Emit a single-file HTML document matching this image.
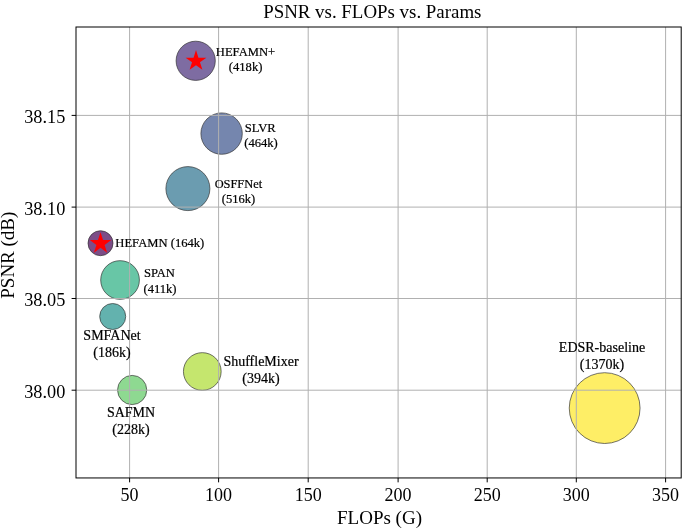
<!DOCTYPE html>
<html lang="en"><head><meta charset="utf-8"><title>PSNR vs. FLOPs vs. Params</title>
<style>html,body{margin:0;padding:0;background:#fff}svg{display:block}text{font-family:"Liberation Serif","Times New Roman",Times,serif;fill:#000}</style></head><body>
<svg width="685" height="531" viewBox="0 0 685 531">
<rect width="685" height="531" fill="#fff"/>
<g stroke="#303030" stroke-width="0.9" stroke-opacity="0.75" fill-opacity="0.7">
<circle cx="100.5" cy="243.2" r="12.50" fill="#440154"/>
<circle cx="195.7" cy="60.8" r="19.60" fill="#472d7b"/>
<circle cx="221.6" cy="133.6" r="20.70" fill="#3b528b"/>
<circle cx="187.9" cy="188.6" r="22.00" fill="#2c728e"/>
<circle cx="112.7" cy="316.5" r="13.00" fill="#21918c"/>
<circle cx="120.05" cy="280.0" r="19.35" fill="#28ae80"/>
<circle cx="132.15" cy="390.0" r="14.60" fill="#5ec962"/>
<circle cx="202.3" cy="371.5" r="18.85" fill="#addc30"/>
<circle cx="604.65" cy="408.1" r="35.40" fill="#fde725"/>
</g>
<g stroke="#b0b0b0" stroke-width="1" fill="none">
<line x1="129.60" y1="27.0" x2="129.60" y2="477.95"/>
<line x1="218.60" y1="27.0" x2="218.60" y2="477.95"/>
<line x1="308.20" y1="27.0" x2="308.20" y2="477.95"/>
<line x1="398.10" y1="27.0" x2="398.10" y2="477.95"/>
<line x1="487.20" y1="27.0" x2="487.20" y2="477.95"/>
<line x1="576.30" y1="27.0" x2="576.30" y2="477.95"/>
<line x1="665.60" y1="27.0" x2="665.60" y2="477.95"/>
<line x1="76.0" y1="115.4" x2="681.2" y2="115.4"/>
<line x1="76.0" y1="207.1" x2="681.2" y2="207.1"/>
<line x1="76.0" y1="298.5" x2="681.2" y2="298.5"/>
<line x1="76.0" y1="390.2" x2="681.2" y2="390.2"/>
</g>
<polygon points="100.50,232.30 103.03,240.07 111.20,240.07 104.59,244.88 107.11,252.65 100.50,247.85 93.89,252.65 96.41,244.88 89.80,240.07 97.97,240.07" fill="#ff0000"/>
<polygon points="196.00,50.10 198.45,57.63 206.37,57.63 199.96,62.29 202.41,69.82 196.00,65.16 189.59,69.82 192.04,62.29 185.63,57.63 193.55,57.63" fill="#ff0000"/>
<g stroke="#000" stroke-width="1" fill="none">
<line x1="129.60" y1="477.95" x2="129.60" y2="482.35"/>
<line x1="218.60" y1="477.95" x2="218.60" y2="482.35"/>
<line x1="308.20" y1="477.95" x2="308.20" y2="482.35"/>
<line x1="398.10" y1="477.95" x2="398.10" y2="482.35"/>
<line x1="487.20" y1="477.95" x2="487.20" y2="482.35"/>
<line x1="576.30" y1="477.95" x2="576.30" y2="482.35"/>
<line x1="665.60" y1="477.95" x2="665.60" y2="482.35"/>
<line x1="71.6" y1="115.4" x2="76.0" y2="115.4"/>
<line x1="71.6" y1="207.1" x2="76.0" y2="207.1"/>
<line x1="71.6" y1="298.5" x2="76.0" y2="298.5"/>
<line x1="71.6" y1="390.2" x2="76.0" y2="390.2"/>
<rect x="76.0" y="27.0" width="605.20" height="450.95"/>
</g>
<g font-size="18.3">
<text x="129.60" y="501" font-size="18" text-anchor="middle">50</text>
<text x="218.60" y="501" font-size="18" text-anchor="middle">100</text>
<text x="308.20" y="501" font-size="18" text-anchor="middle">150</text>
<text x="398.10" y="501" font-size="18" text-anchor="middle">200</text>
<text x="487.20" y="501" font-size="18" text-anchor="middle">250</text>
<text x="576.30" y="501" font-size="18" text-anchor="middle">300</text>
<text x="665.60" y="501" font-size="18" text-anchor="middle">350</text>
<text x="65.3" y="122.8" text-anchor="end">38.15</text>
<text x="65.3" y="214.5" text-anchor="end">38.10</text>
<text x="65.3" y="305.9" text-anchor="end">38.05</text>
<text x="65.3" y="397.6" text-anchor="end">38.00</text>
</g>
<text x="245.5" y="56.2" font-size="12.6" text-anchor="middle" stroke="#000" stroke-width="0.2">HEFAMN+</text>
<text x="245.6" y="71.0" font-size="12.6" text-anchor="middle" stroke="#000" stroke-width="0.2">(418k)</text>
<text x="260.2" y="131.6" font-size="12.6" text-anchor="middle" stroke="#000" stroke-width="0.2">SLVR</text>
<text x="261.0" y="146.6" font-size="12.6" text-anchor="middle" stroke="#000" stroke-width="0.2">(464k)</text>
<text x="238.4" y="187.7" font-size="12.4" text-anchor="middle" stroke="#000" stroke-width="0.2">OSFFNet</text>
<text x="238.5" y="202.9" font-size="12.5" text-anchor="middle" stroke="#000" stroke-width="0.2">(516k)</text>
<text x="115.3" y="246.6" font-size="12.6" text-anchor="start" stroke="#000" stroke-width="0.2">HEFAMN (164k)</text>
<text x="159.4" y="276.9" font-size="12.6" text-anchor="middle" stroke="#000" stroke-width="0.2">SPAN</text>
<text x="160.0" y="292.7" font-size="12.6" text-anchor="middle" stroke="#000" stroke-width="0.2">(411k)</text>
<text x="112.0" y="339.8" font-size="14" text-anchor="middle" stroke="#000" stroke-width="0.2">SMFANet</text>
<text x="112.0" y="356.5" font-size="14" text-anchor="middle" stroke="#000" stroke-width="0.2">(186k)</text>
<text x="131.0" y="416.6" font-size="14" text-anchor="middle" stroke="#000" stroke-width="0.2">SAFMN</text>
<text x="131.0" y="434.0" font-size="14" text-anchor="middle" stroke="#000" stroke-width="0.2">(228k)</text>
<text x="261.0" y="365.5" font-size="14" text-anchor="middle" stroke="#000" stroke-width="0.2">ShuffleMixer</text>
<text x="261.0" y="382.5" font-size="14" text-anchor="middle" stroke="#000" stroke-width="0.2">(394k)</text>
<text x="602.0" y="351.5" font-size="14" text-anchor="middle" stroke="#000" stroke-width="0.2">EDSR-baseline</text>
<text x="602.0" y="368.7" font-size="14" text-anchor="middle" stroke="#000" stroke-width="0.2">(1370k)</text>
<text x="372.3" y="17.5" font-size="18.9" text-anchor="middle">PSNR vs. FLOPs vs. Params</text>
<text x="379.5" y="523.5" font-size="19" text-anchor="middle">FLOPs (G)</text>
<text transform="translate(14.2,255.2) rotate(-90)" font-size="19" text-anchor="middle">PSNR (dB)</text>
</svg></body></html>
